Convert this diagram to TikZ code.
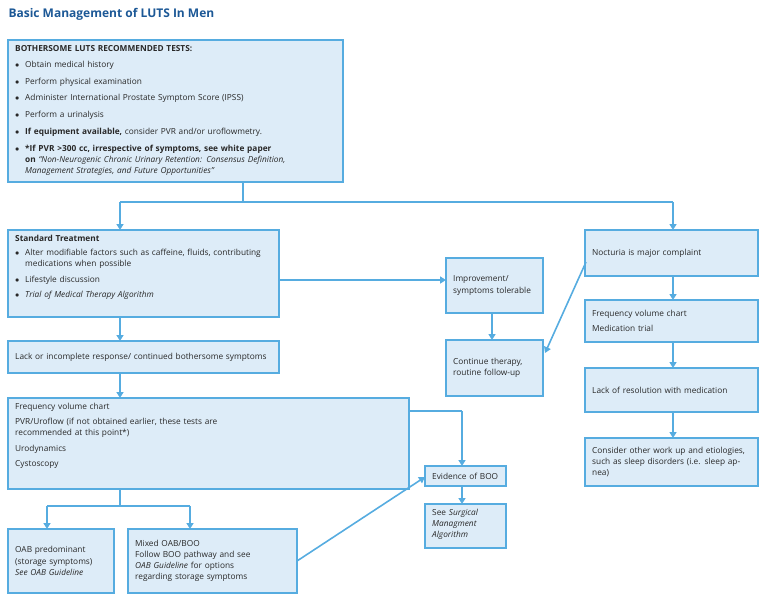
\documentclass[tikz,border=0pt]{standalone}
\usepackage{fontspec}
\setmainfont{Open Sans}
\usetikzlibrary{arrows.meta}
\definecolor{bfill}{RGB}{221,236,248}
\definecolor{bline}{RGB}{86,172,224}
\definecolor{ttl}{RGB}{28,88,150}
\definecolor{txt}{RGB}{40,40,40}
\newcommand{\bul}{\makebox[10pt][l]{$\bullet$}}
\begin{document}
\begin{tikzpicture}[x=1pt,y=-1pt,
 box/.style={inner sep=0pt,align=left,font=\fontsize{8.3}{11.2}\selectfont,text=txt},
 arr/.style={draw=bline,line width=1.6pt,-{Triangle[length=6pt,width=7pt]}},
 ln/.style={draw=bline,line width=1.6pt}]
\useasboundingbox (0,0) rectangle (768,602);
\node[anchor=west,font=\bfseries\fontsize{12}{14}\selectfont,text=ttl] (title) at (5,14) {Basic Management of LUTS In Men};
\newcommand{\bx}[6]{\path[draw=bline,fill=bfill,line width=1.2pt] (#2,#3) rectangle (#4,#5);
 \node[box,anchor=north west,text width=#4pt-#2pt-12pt] (#1) at (#2+7,#3+5) {#6};}
\newcommand{\cx}[6]{\path[draw=bline,fill=bfill,line width=1.2pt] (#2,#3) rectangle (#4,#5);
 \node[box,anchor=west,text width=#4pt-#2pt-12pt] (#1) at (#2+7,{(#3+#5)/2}) {#6};}
\bx{a}{8}{40}{343}{182}{\textbf{BOTHERSOME LUTS RECOMMENDED TESTS:}\\[5pt]
\bul Obtain medical history\\[5.5pt]
\bul Perform physical examination\\[5.5pt]
\bul Administer International Prostate Symptom Score (IPSS)\\[5.5pt]
\bul Perform a urinalysis\\[5.5pt]
\bul \textbf{If equipment available,} consider PVR and/or uroflowmetry.\\[6pt]
\bul \textbf{*If PVR >300 cc, irrespective of symptoms, see white paper}\\
\hspace*{10pt}\textbf{on} \textit{``Non-Neurogenic Chronic Urinary Retention: Consensus Definition,}\\
\hspace*{10pt}\textit{Management Strategies, and Future Opportunities''}}
\bx{b}{8}{230}{279}{317}{\textbf{Standard Treatment}\\[3pt]
\bul Alter modifiable factors such as caffeine, fluids, contributing\\
\hspace*{10pt}medications when possible\\[4pt]
\bul Lifestyle discussion\\[4pt]
\bul \textit{Trial of Medical Therapy Algorithm}}
\cx{c}{446}{258}{543}{313}{Improvement/\\symptoms tolerable}
\cx{d}{446}{340}{543}{396}{Continue therapy,\\routine follow-up}
\cx{e}{585}{230}{758}{276}{Nocturia is major complaint}
\cx{f}{585}{300}{758}{342}{Frequency volume chart\\[4pt]Medication trial}
\cx{g}{585}{368}{758}{412}{Lack of resolution with medication}
\cx{h}{585}{438}{758}{486}{Consider other work up and etiologies,\\such as sleep disorders (i.e. sleep apnea)}
\cx{i}{8}{341}{279}{373}{Lack or incomplete response/ continued bothersome symptoms}
\bx{j}{8}{398}{409}{489}{Frequency volume chart\\[4pt]
PVR/Uroflow (if not obtained earlier, these tests are\\recommended at this point*)\\[4pt]Urodynamics\\[4pt]Cystoscopy}
\cx{k}{425}{466}{506}{486}{Evidence of BOO}
\bx{l}{425}{504}{506}{548}{See \textit{Surgical}\\\textit{Managment}\\\textit{Algorithm}}
\cx{m}{8}{529}{114}{593}{OAB predominant\\(storage symptoms)\\\textit{See OAB Guideline}}
\cx{n}{128}{529}{297}{593}{Mixed OAB/BOO\\Follow BOO pathway and see\\\textit{OAB Guideline} for options\\regarding storage symptoms}
\coordinate (s1) at (243,202);
\draw[ln] (243,182) -- (s1);
\draw[ln] (120,202) -- (673,202);
\draw[arr] (120,202) -- (120,230);
\draw[arr] (673,202) -- (673,230);
\draw[arr] (279,280) -- (446,280);
\draw[arr] (492,313) -- (492,340);
\draw[arr] (586,262) -- (545,353);
\draw[arr] (673,276) -- (673,300);
\draw[arr] (673,342) -- (673,368);
\draw[arr] (673,412) -- (673,438);
\draw[arr] (120,317) -- (120,341);
\draw[arr] (120,373) -- (120,398);
\draw[ln] (409,411) -- (462,411);
\draw[arr] (462,411) -- (462,466);
\draw[arr] (462,486) -- (462,504);
\draw[ln] (120,489) -- (120,506);
\draw[ln] (47,506) -- (190,506);
\draw[arr] (47,506) -- (47,529);
\draw[arr] (190,506) -- (190,529);
\draw[arr] (297,561) -- (425,477);
\end{tikzpicture}
\end{document}
